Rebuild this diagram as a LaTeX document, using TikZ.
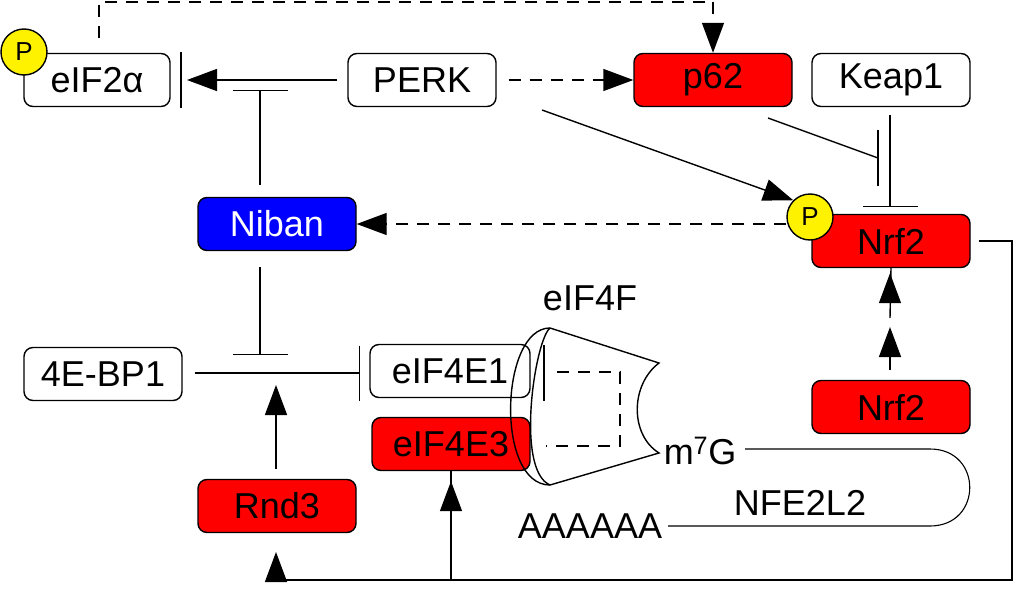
\documentclass[tikz,border=0pt]{standalone}
\usepackage{fontspec}
\setmainfont{Liberation Sans}
\usetikzlibrary{arrows.meta}
\begin{document}
\begin{tikzpicture}[x=1pt,y=-1pt,line width=1.4pt,
 box/.style={draw,rounded corners=9pt,minimum width=158pt,minimum height=53pt,inner sep=0pt,font=\fontsize{36}{40}\selectfont},
 red/.style={box,fill=red},
 pc/.style={draw,circle,fill=yellow,minimum size=46pt,inner sep=0pt,font=\fontsize{26}{28}\selectfont},
 act/.style={-{Triangle[length=30pt,width=22pt]}},
 inh/.style={-{Bar[width=55pt,line width=1.4pt]}},
 lab/.style={inner sep=0pt,font=\fontsize{36}{40}\selectfont},
 dsh/.style={dash pattern=on 12pt off 9pt}]
\useasboundingbox (0,0) rectangle (1020,589);
\node[box,minimum width=146pt] (eif2) at (97,80) {eIF2α};
\node[pc] (p1) at (24,52) {P};
\node[box,minimum width=148pt] (perk) at (422,80) {PERK};
\node[red] (p62) at (713,80) {p62};
\node[box] (keap) at (891,80) {Keap1};
\node[box,fill=blue,text=white] (niban) at (277,224) {Niban};
\node[red] (nrf2) at (891,241) {Nrf2};
\node[pc] (p2) at (810,217) {P};
\node[box] (bp1) at (103,374) {4E-BP1};
\node[box,minimum width=160pt] (e1) at (450,371) {eIF4E1};
\node[red] (e3) at (451,444) {eIF4E3};
\node[red] (nrf2b) at (891,407) {Nrf2};
\node[red] (rnd3) at (277,506) {Rnd3};
\node[lab] (eif4f) at (590,298) {eIF4F};
\node[lab] (m7g) at (700,451) {m\textsuperscript{7}G};
\node[lab] (nfe) at (800,503) {NFE2L2};
\node[lab] (aaa) at (590,526) {AAAAAA};
\coordinate (c1) at (99,2); \coordinate (c2) at (713,2);
\coordinate (bar1) at (181,80); \coordinate (bar2) at (260,90);
\coordinate (bar3) at (260,355); \coordinate (bar4) at (360,373);
\coordinate (bar5) at (878,158); \coordinate (bar6) at (890,207);
\coordinate (bar7) at (544,373);
\coordinate (r1) at (1012,241); \coordinate (r2) at (1012,580);
\coordinate (r3) at (276,580); \coordinate (r4) at (451,580);
% top dashed
\draw[dsh] (99,38) -- (c1) -- (c2);
\draw[act,dsh] (c2) -- (p62.north);
% PERK -> eIF2a
\draw[act] (perk.west)+(-10,0) -- (187,80);
\draw (bar1)+(0,-28) -- +(0,28);
\draw[inh] (niban.north)+(-17,-12) -- (bar2);
\draw[act,dsh] (perk.east)+(12,0) -- (p62.west);
\draw[act] (542,110) -- (p2.north west);
\draw (768,118) -- (bar5);
\draw (878,130) -- (878,186);
\draw[inh] (890,115) -- (bar6);
\draw[act,dsh] (p2.west)+(0,7) -- (niban.east);
\draw[inh] (niban.south)+(-17,16) -- (bar3);
\draw[inh] (bp1.east)+(12,-1) -- (bar4);
\draw[act] (rnd3.north)+(-1,-10) -- (276,385);
\draw[act] (890,318) -- (nrf2.south)+(-1,5);
\draw[act] (nrf2b.north)+(-1,-10) -- (890,327);
\draw (nrf2.east)+(8,0) -- (r1) -- (r2) -- (r3);
\draw[act] (r3) -- (276,552);
\draw[act] (r4) -- (e3.south)+(0,10);
% eIF4F
\draw (550,328) .. controls (500,328) and (495,485) .. (550,485);
\draw (550,328) .. controls (535,340) and (515,470) .. (550,485);
\draw (550,328) -- (659,363) .. controls (630,385) and (630,435) .. (659,453) -- (550,485);
\draw (bar7)+(0,-28) -- +(0,28);
\draw[dsh,line width=1.2pt] (557,372) -- (620,372) -- (620,446) -- (546,446);
\draw[line width=1.1pt] (745,449) -- (930,449) .. controls (983,449) and (983,526) .. (930,526) -- (668,526);
\end{tikzpicture}
\end{document}
